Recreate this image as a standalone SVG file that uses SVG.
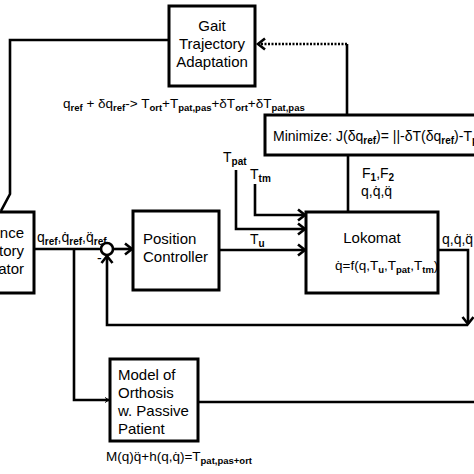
<svg xmlns="http://www.w3.org/2000/svg" width="474" height="474" viewBox="0 0 474 474">
<defs>
<style>
.box{fill:#fff;stroke:#000;stroke-width:3}
.ln{fill:none;stroke:#000;stroke-width:2.6}
.dot{fill:none;stroke:#000;stroke-width:2.6;stroke-dasharray:2 1.5}
text{font-family:"Liberation Sans",Arial,sans-serif;font-size:15px;fill:#000}
.lb{font-size:14px}
.eq{font-size:13.5px}
.s{font-size:10px;font-weight:bold}
.eq .s{font-size:9.5px}
</style>
<marker id="ar" markerUnits="userSpaceOnUse" markerWidth="14" markerHeight="14" refX="10" refY="7" orient="auto">
<path d="M3,1.5 L10,7 L3,12.5" fill="none" stroke="#000" stroke-width="2.6"/>
</marker>
<marker id="sm" markerUnits="userSpaceOnUse" markerWidth="8" markerHeight="8" refX="6" refY="4" orient="auto">
<path d="M2,1.5 L6,4 L2,6.5" fill="none" stroke="#000" stroke-width="1"/>
</marker>
</defs>
<g id="connectors">
<polyline class="ln" points="169,40 10,40 10,194 1,211"/>
<polyline class="ln" points="347,115 347,44"/>
<polyline class="dot" points="347,44 258,44" marker-end="url(#ar)"/>
<polyline class="ln" points="348,212 348,155"/>
<polyline class="ln" points="34,249 101,249"/>
<polyline class="ln" points="113,249 132,249" marker-end="url(#ar)"/>
<polyline class="ln" points="219,250 305,250" marker-end="url(#ar)"/>
<polyline class="ln" points="236,170 236,229 305,229" marker-end="url(#ar)"/>
<polyline class="ln" points="255,184 255,215 305,215" marker-end="url(#ar)"/>
<polyline class="ln" points="438,250 468,250 468,324" marker-end="url(#ar)"/>
<polyline class="ln" points="468,325 107,325 107,256" marker-end="url(#ar)"/>
<polyline class="ln" points="74,249 74,400 109,400" marker-end="url(#sm)"/>
<polyline class="ln" points="198,402 474,402"/>
</g>
<g id="gait">
<rect class="box" x="169" y="6" width="86" height="80"/>
<text x="212" y="31" text-anchor="middle">Gait</text>
<text x="212" y="49" text-anchor="middle">Trajectory</text>
<text x="212" y="67" text-anchor="middle">Adaptation</text>
</g>
<text class="eq" x="63" y="108">q<tspan class="s" dy="3">ref</tspan><tspan dy="-3"> + δq</tspan><tspan class="s" dy="3">ref</tspan><tspan dy="-3">-&gt; T</tspan><tspan class="s" dy="3">ort</tspan><tspan dy="-3">+T</tspan><tspan class="s" dy="3">pat,pas</tspan><tspan dy="-3">+δT</tspan><tspan class="s" dy="3">ort</tspan><tspan dy="-3">+δT</tspan><tspan class="s" dy="3">pat,pas</tspan></text>
<g id="minimize">
<rect class="box" x="265" y="115" width="215" height="40"/>
<text class="lb" x="273" y="141">Minimize: J(δq<tspan class="s" dy="3">ref</tspan><tspan dy="-3">)= ||-δT(δq</tspan><tspan class="s" dy="3">ref</tspan><tspan dy="-3">)-T</tspan><tspan class="s" dy="3">pat</tspan></text>
</g>
<g id="refgen">
<rect class="box" x="-20" y="212" width="54" height="81"/>
<text x="24" y="238" text-anchor="end">Reference</text>
<text x="24" y="256" text-anchor="end">Trajectory</text>
<text x="24" y="274" text-anchor="end">Generator</text>
</g>
<text class="lb" x="37" y="242">q<tspan class="s" dy="3">ref</tspan><tspan dy="-3">,q̇</tspan><tspan class="s" dy="3">ref</tspan><tspan dy="-3">,q̈</tspan><tspan class="s" dy="3">ref</tspan></text>
<g id="sum">
<circle cx="107" cy="249" r="6" fill="#fff" stroke="#000" stroke-width="2.6"/>
<text class="lb" x="97" y="263">-</text>
</g>
<g id="position">
<rect class="box" x="133" y="211" width="86" height="79"/>
<text x="143" y="244">Position</text>
<text x="143" y="262">Controller</text>
</g>
<text class="lb" x="223" y="162">T<tspan class="s" dy="3">pat</tspan></text>
<text class="lb" x="250" y="179">T<tspan class="s" dy="3">tm</tspan></text>
<text class="lb" x="250" y="244">T<tspan class="s" dy="3">u</tspan></text>
<text class="lb" x="362" y="178">F<tspan class="s" dy="3">1</tspan><tspan dy="-3">,F</tspan><tspan class="s" dy="3">2</tspan></text>
<text class="lb" x="361" y="196">q,q̇,q̈</text>
<g id="lokomat">
<rect class="box" x="306" y="212" width="132" height="81"/>
<text x="372" y="243" text-anchor="middle">Lokomat</text>
<text class="eq" x="335" y="270">q̇=f(q,T<tspan class="s" dy="3">u</tspan><tspan dy="-3">,T</tspan><tspan class="s" dy="3">pat</tspan><tspan dy="-3">,T</tspan><tspan class="s" dy="3">tm</tspan><tspan dy="-3">)</tspan></text>
</g>
<text class="lb" x="442" y="244">q,q̇,q̈</text>
<g id="model">
<rect class="box" x="110" y="359" width="88" height="82"/>
<text x="118" y="380">Model of</text>
<text x="118" y="398">Orthosis</text>
<text x="118" y="416">w. Passive</text>
<text x="118" y="434">Patient</text>
</g>
<text class="eq" x="106" y="461">M(q)q̈+h(q,q̇)=T<tspan class="s" dy="3">pat,pas+ort</tspan></text>
</svg>
